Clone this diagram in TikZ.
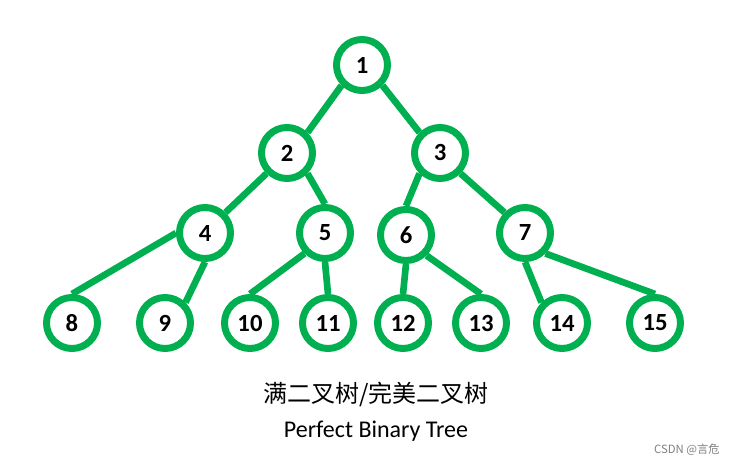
\documentclass[tikz,border=0pt]{standalone}
\usepackage{fontspec}
\setmainfont{Carlito}
\newfontfamily\cjk{Noto Sans CJK SC}
\definecolor{treegreen}{RGB}{0,176,80}

\begin{document}
\begin{tikzpicture}[x=0.75pt,y=-0.75pt,
    vertex/.style={circle, draw=treegreen, line width=5.25pt, fill=white,
      minimum size=38.25pt, inner sep=0pt, font=\bfseries\fontsize{18.5}{18.5}\selectfont},
    edge/.style={draw=treegreen, line width=5pt}]
  \useasboundingbox (0,0) rectangle (736,466);
  % nodes, level by level
  \node[vertex] (n1) at (362,65) {1};
  \node[vertex] (n2) at (287,153) {2};
  \node[vertex] (n3) at (440,153) {3};
  \node[vertex] (n4) at (205,233) {4};
  \node[vertex] (n5) at (325,233) {5};
  \node[vertex] (n6) at (406,235) {6};
  \node[vertex] (n7) at (525,233) {7};
  \node[vertex] (n8) at (72,323) {8};
  \node[vertex] (n9) at (165,323) {9};
  \node[vertex] (n10) at (250,323) {10};
  \node[vertex] (n11) at (328,323) {11};
  \node[vertex] (n12) at (403,323) {12};
  \node[vertex] (n13) at (481,323) {13};
  \node[vertex] (n14) at (562,323) {14};
  \node[vertex] (n15) at (655,323) {15};
  % edges
  \draw[edge] (n1.south west) -- (n2.north east);
  \draw[edge] (n1.south east) -- (n3.north west);
  \draw[edge] (n2.south west) -- (n4.north east);
  \draw[edge] (n2.south east) -- (n5.north);
  \draw[edge] (n3.south west) -- (n6.north);
  \draw[edge] (n3.south east) -- (n7.north west);
  \draw[edge] (n4.west) -- (n8.north);
  \draw[edge] (n4.south) -- (n9.north east);
  \draw[edge] (n5.south west) -- (n10.north);
  \draw[edge] (n5.south) -- (n11.north);
  \draw[edge] (n6.south) -- (n12.north);
  \draw[edge] (n6.south east) -- (n13.north);
  \draw[edge] (n7.south) -- (n14.north west);
  \draw[edge] (n7.south east) -- (n15.north);
  % captions
  \node (cn) at (376,394) {\cjk\fontsize{18}{18}\selectfont 满二叉树/完美二叉树};
  \node (en) at (376,431) {\fontsize{18}{18}\selectfont Perfect Binary Tree};
  \node[text=gray] (mark) at (687,450) {\cjk\fontsize{8.5}{8.5}\selectfont CSDN @言危};
\end{tikzpicture}
\end{document}
